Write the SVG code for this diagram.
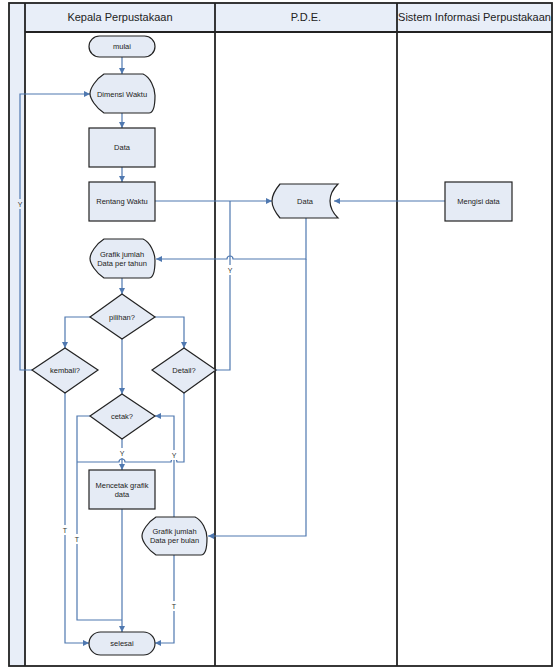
<svg xmlns="http://www.w3.org/2000/svg" width="555" height="669" viewBox="0 0 555 669">
<style>
.lane{fill:none;stroke:#222;stroke-width:1.8}
.hdr{font-family:"Liberation Sans",Arial,sans-serif;font-size:11px;fill:#222;text-anchor:middle;dominant-baseline:central}
.node{fill:#e5ebf5;stroke:#222;stroke-width:1.2}
.t{font-family:"Liberation Sans",Arial,sans-serif;font-size:7.5px;fill:#222;text-anchor:middle;dominant-baseline:central}
.c{fill:none;stroke:#4f78b0;stroke-width:1.2}
.a{marker-end:url(#arr)}
.lbl{font-family:"Liberation Sans",Arial,sans-serif;font-size:7px;fill:#333;text-anchor:middle;dominant-baseline:central}
</style>
<defs>
<marker id="arr" markerUnits="userSpaceOnUse" markerWidth="6" markerHeight="6" refX="6" refY="3" orient="auto">
<path d="M0,0 L6,3 L0,6 z" fill="#4f78b0"/>
</marker>
</defs>
<rect width="555" height="669" fill="#fff"/>
<g id="pool">
<rect x="9" y="3" width="16" height="663" fill="#e8eef8"/>
<rect x="25" y="3" width="527" height="29" fill="#e8eef8"/>
<rect class="lane" x="9" y="3" width="543" height="663"/>
<line class="lane" x1="25" y1="3" x2="25" y2="666"/>
<line class="lane" x1="215" y1="3" x2="215" y2="666"/>
<line class="lane" x1="397" y1="3" x2="397" y2="666"/>
<line class="lane" x1="25" y1="32" x2="552" y2="32"/>
<text class="hdr" x="120" y="17">Kepala Perpustakaan</text>
<text class="hdr" x="306" y="17">P.D.E.</text>
<text class="hdr" x="474.5" y="17" font-size="10.8">Sistem Informasi Perpustakaan</text>
</g>
<g id="connectors">
<path class="c a" d="M122,57 V74"/>
<path class="c a" d="M122,113 V128"/>
<path class="c a" d="M122,167 V182"/>
<path class="c a" d="M155,201 H272"/>
<path class="c a" d="M445,201 H334"/>
<path class="c a" d="M306,218 V259 H233 A3,3 0 0 0 227,259 H156"/>
<path class="c a" d="M306,259 V536 H208"/>
<path class="c a" d="M122,278 V294"/>
<path class="c a" d="M90,317 H65 V348"/>
<path class="c a" d="M155,317 H184 V348"/>
<path class="c a" d="M122,339 V394"/>
<path class="c a" d="M32,370 H20 V94 H90"/>
<path class="c a" d="M65,393 V643 H89"/>
<path class="c" d="M216,370 H230 V201"/>
<path class="c" d="M184,393 V462 H177 A3,3 0 0 0 171,462 H125 A3,3 0 0 0 119,462 H77"/>
<path class="c" d="M90,416 H77 V620 H122"/>
<path class="c a" d="M122,439 V470"/>
<path class="c a" d="M122,509 V632"/>
<path class="c a" d="M174,517 V416 H155"/>
<path class="c a" d="M174,555 V643 H155"/>
<rect x="16" y="199" width="8" height="10" fill="#e8eef8"/>
<text class="lbl" x="20" y="204">Y</text>
<rect x="226" y="265" width="8" height="10" fill="#fff"/>
<text class="lbl" x="230" y="270">Y</text>
<rect x="61" y="525" width="8" height="10" fill="#fff"/>
<text class="lbl" x="65" y="530">T</text>
<rect x="73" y="534" width="8" height="10" fill="#fff"/>
<text class="lbl" x="77" y="539">T</text>
<rect x="118" y="448" width="8" height="10" fill="#fff"/>
<text class="lbl" x="122" y="453">Y</text>
<rect x="170" y="450" width="8" height="10" fill="#fff"/>
<text class="lbl" x="174" y="455">Y</text>
<rect x="170" y="601" width="8" height="10" fill="#fff"/>
<text class="lbl" x="174" y="606">T</text>
</g>
<g id="mulai">
<rect class="node" x="89" y="36" width="66" height="21" rx="10.5"/>
<text class="t" x="122" y="46.5">mulai</text>
</g>
<g id="dimensi-waktu">
<path class="node" d="M104,74 L143,74 C150,77 155,87.6 155,95.5 C155,107 153,113 149,113 L104,113 C96,108 90,98.5 90,93.5 C90,88.5 96,79 104,74 Z"/>
<text class="t" x="122" y="94">Dimensi Waktu</text>
</g>
<g id="data-kp">
<rect class="node" x="89" y="128" width="66" height="39"/>
<text class="t" x="122" y="147.5">Data</text>
</g>
<g id="rentang-waktu">
<rect class="node" x="89" y="182" width="66" height="39"/>
<text class="t" x="122" y="201">Rentang Waktu</text>
</g>
<g id="data-pde">
<path class="node" d="M280,184 L338,184 C332,190 330,196 330,201 C330,206 332,212 338,218 L280,218 C275,212 272,206 272,201 C272,196 275,190 280,184 Z"/>
<text class="t" x="305" y="201">Data</text>
</g>
<g id="mengisi-data">
<rect class="node" x="445" y="182" width="67" height="39"/>
<text class="t" x="478.5" y="201">Mengisi data</text>
</g>
<g id="grafik-tahun">
<path class="node" d="M104,239 L143,239 C150,242 155,252.6 155,260.5 C155,272 153,278 149,278 L104,278 C96,273 90,263.5 90,258.5 C90,253.5 96,244 104,239 Z"/>
<text class="t" x="122" y="254">Grafik jumlah</text>
<text class="t" x="122" y="263.5">Data per tahun</text>
</g>
<g id="pilihan">
<polygon class="node" points="90,317 122,294 155,317 122,339"/>
<text class="t" x="122" y="317">pilihan?</text>
</g>
<g id="kembali">
<polygon class="node" points="32,370 65,348 98,370 65,393"/>
<text class="t" x="65" y="370.5">kembali?</text>
</g>
<g id="detail">
<polygon class="node" points="152,370 184,348 216,370 184,393"/>
<text class="t" x="184" y="370.5">Detail?</text>
</g>
<g id="cetak">
<polygon class="node" points="90,416 122,394 155,416 122,439"/>
<text class="t" x="122" y="416">cetak?</text>
</g>
<g id="mencetak">
<rect class="node" x="89" y="470" width="66" height="39"/>
<text class="t" x="122" y="485">Mencetak grafik</text>
<text class="t" x="122" y="494">data</text>
</g>
<g id="grafik-bulan">
<path class="node" d="M156,517 L195,517 C202,520 207,530.3 207,538 C207,549 205,555 201,555 L156,555 C148,550 142,541 142,536 C142,531 148,522 156,517 Z"/>
<text class="t" x="174.5" y="531">Grafik jumlah</text>
<text class="t" x="174.5" y="540">Data per bulan</text>
</g>
<g id="selesai">
<rect class="node" x="89" y="632" width="66" height="23" rx="11.5"/>
<text class="t" x="122" y="643.5">selesai</text>
</g>
</svg>
